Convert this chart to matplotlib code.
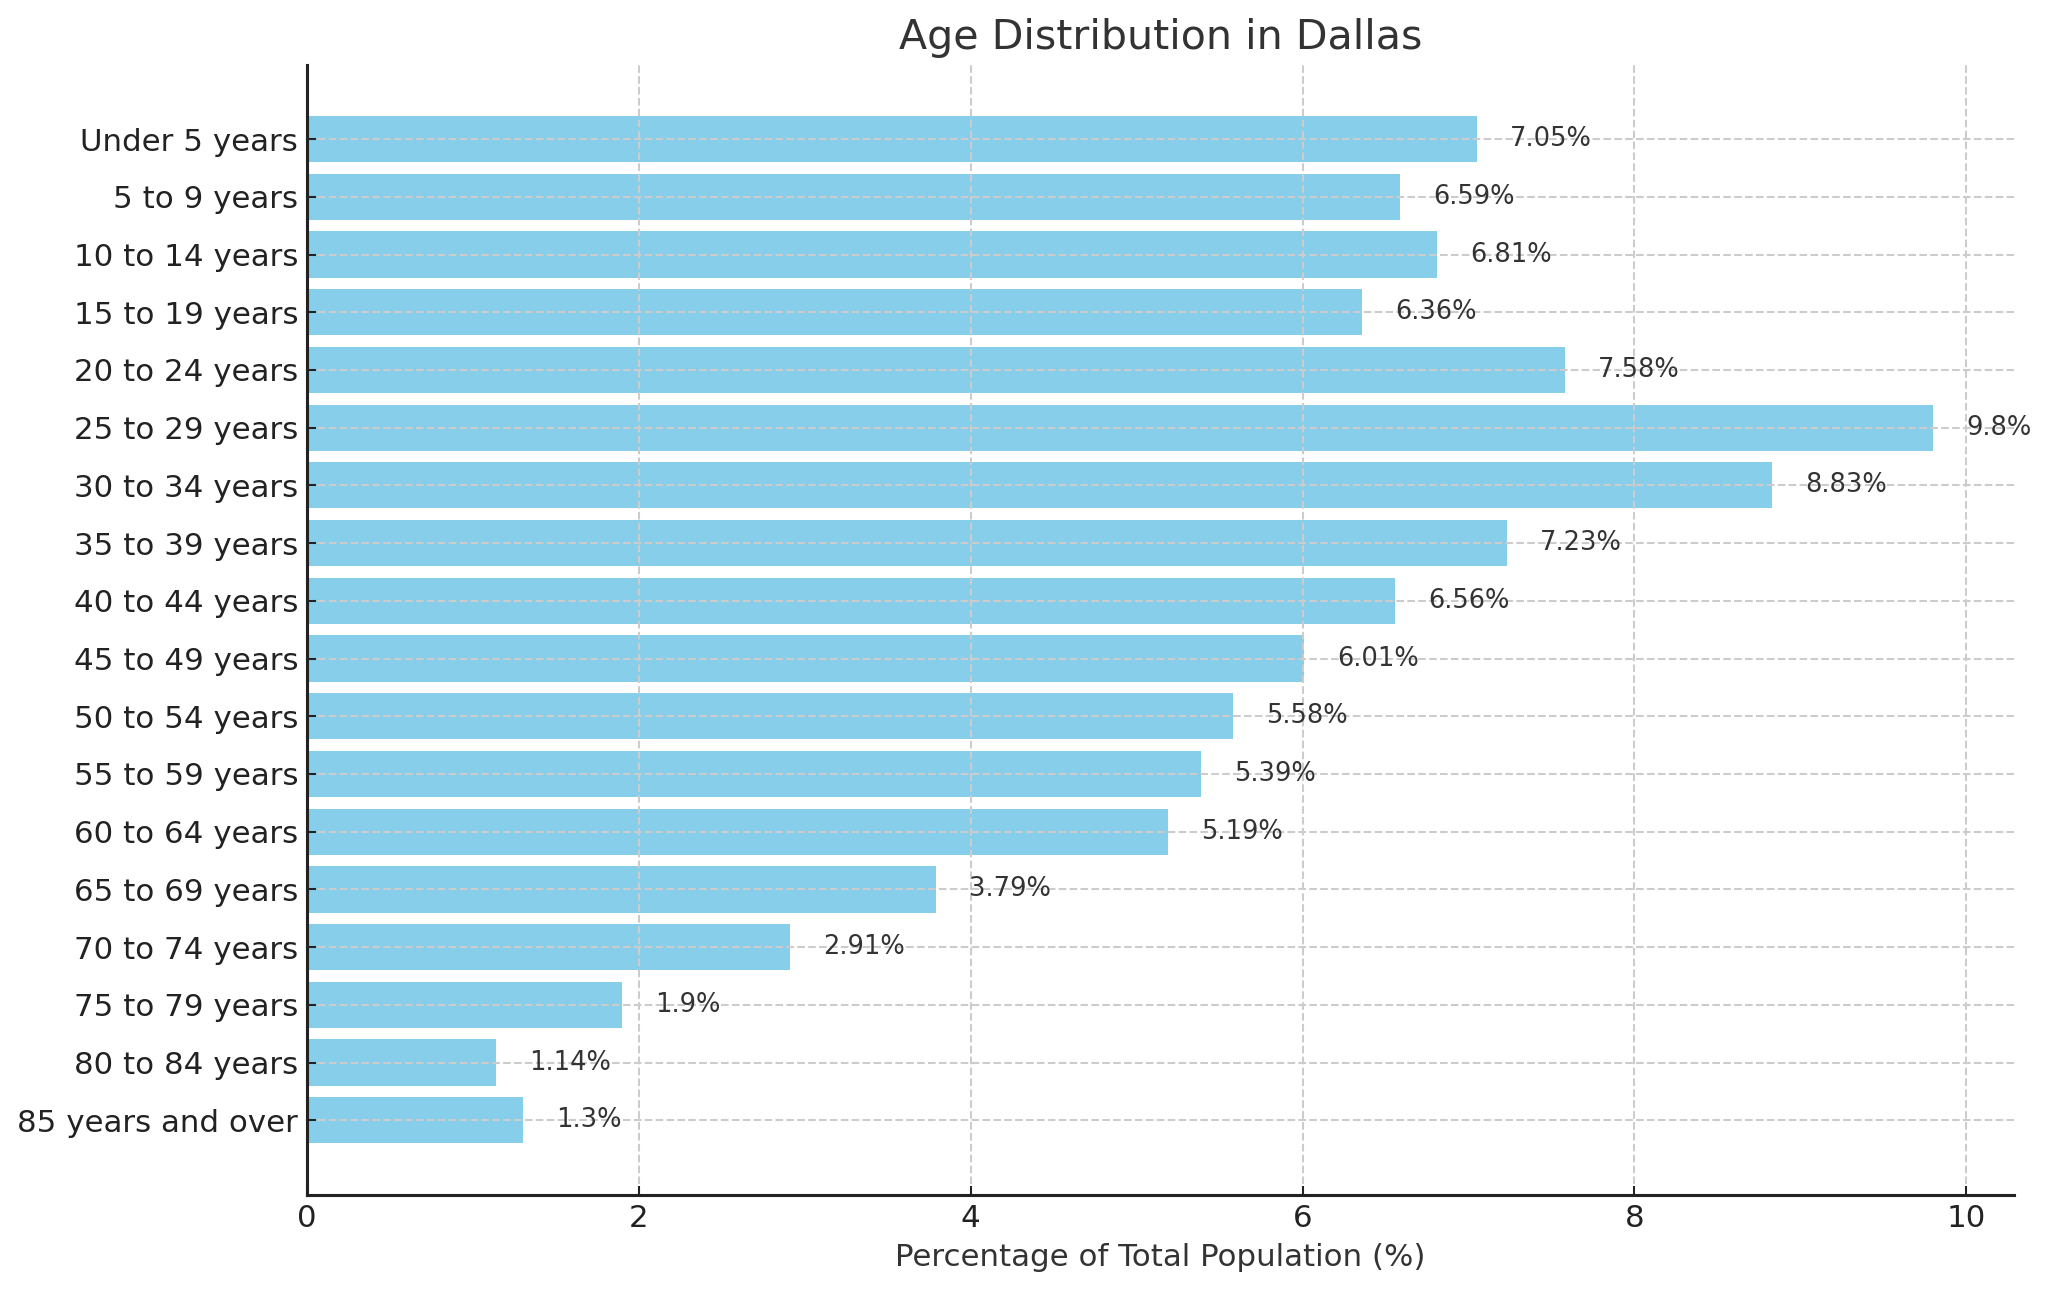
import numpy as np
import matplotlib
matplotlib.use('Agg')
import matplotlib.pyplot as plt

age_groups = ['Under 5 years', '5 to 9 years', '10 to 14 years', '15 to 19 years',
              '20 to 24 years', '25 to 29 years', '30 to 34 years', '35 to 39 years',
              '40 to 44 years', '45 to 49 years', '50 to 54 years', '55 to 59 years',
              '60 to 64 years', '65 to 69 years', '70 to 74 years', '75 to 79 years',
              '80 to 84 years', '85 years and over']
percentages = [7.05, 6.59, 6.81, 6.36, 7.58, 9.8, 8.83, 7.23, 6.56, 6.01,
               5.58, 5.39, 5.19, 3.79, 2.91, 1.9, 1.14, 1.3]

dpi = 185
fig, ax = plt.subplots(figsize=(2048 / dpi, 1293 / dpi), dpi=dpi)
fig.subplots_adjust(left=0.150, right=0.9835, top=0.950, bottom=0.076)

bars = ax.barh(age_groups, percentages, color='skyblue')
ax.invert_yaxis()
ax.set_xlim(0, max(percentages) * 1.05)

for bar, val in zip(bars, percentages):
    ax.text(bar.get_width() + 0.2, bar.get_y() + bar.get_height() / 2,
            f'{val}%', va='center', ha='left', fontsize=10, color='#333333')

ax.set_title('Age Distribution in Dallas', fontsize=16, color='#333333')
ax.set_xlabel('Percentage of Total Population (%)', fontsize=12, color='#333333')
ax.tick_params(axis='both', labelsize=12, direction='in', colors='#222222')
ax.grid(True, linestyle='--', color='#cccccc', linewidth=0.8)
ax.set_axisbelow(False)
for s in ['top', 'right']:
    ax.spines[s].set_visible(False)
for s in ['left', 'bottom']:
    ax.spines[s].set_color('#222222')
    ax.spines[s].set_linewidth(1.2)
    ax.spines[s].set_zorder(5)

fig.savefig('out.png', dpi=dpi)
